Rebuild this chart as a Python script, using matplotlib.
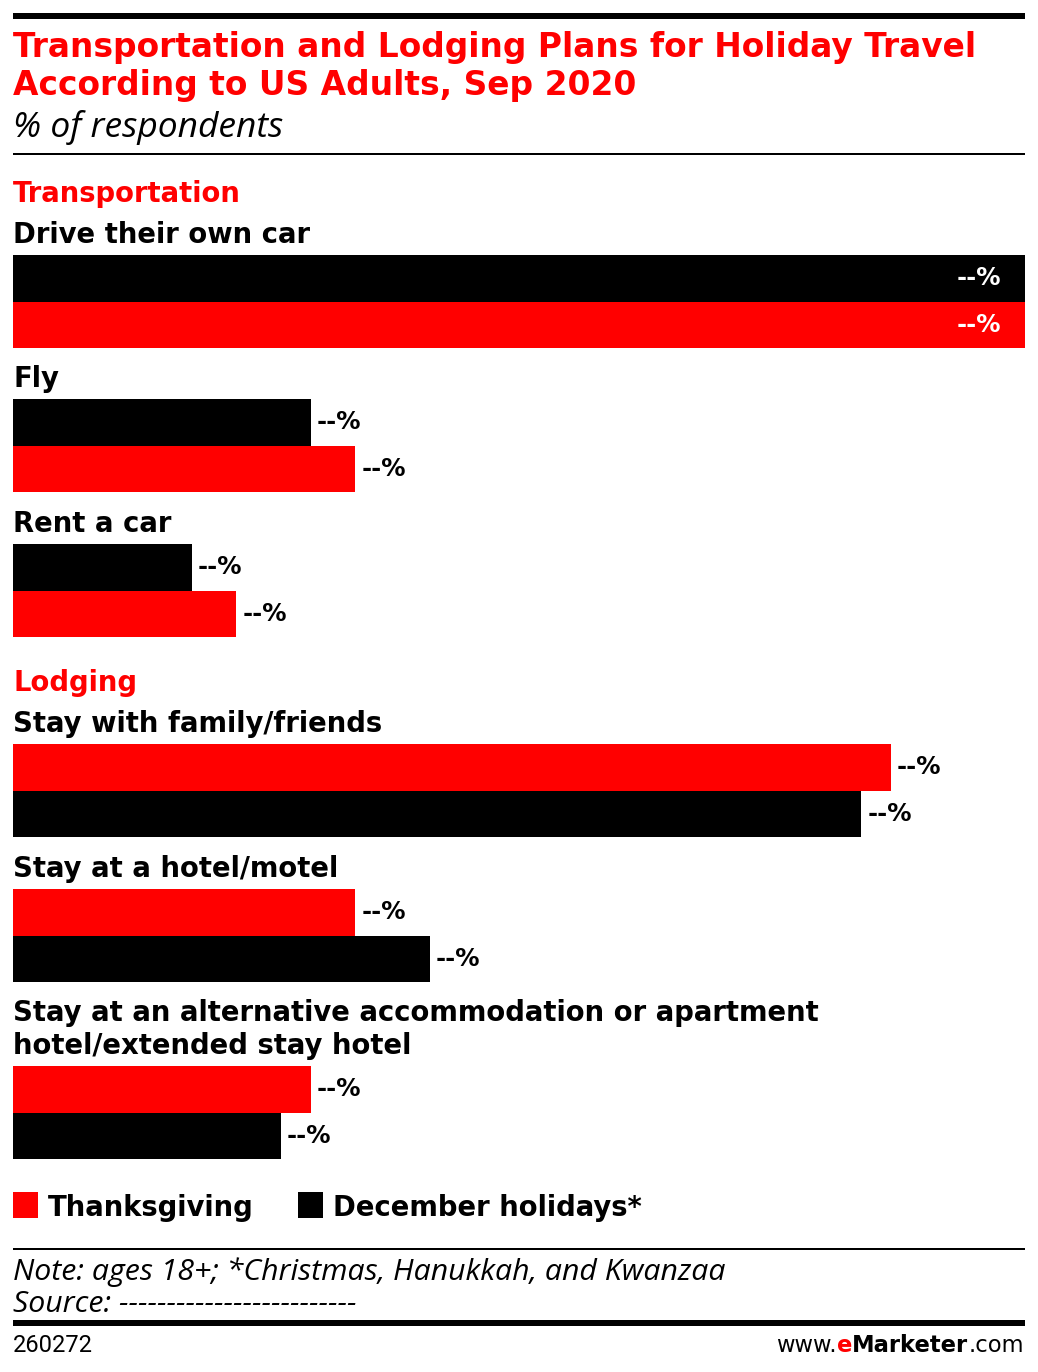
import matplotlib

matplotlib.use("Agg")
import matplotlib.pyplot as plt
from matplotlib.lines import Line2D
from matplotlib.patches import Rectangle

W, H = 1038, 1372
RED = "#ff0000"
BLACK = "#000000"

# values (source shows "--%" for every label)
transport_labels = ["Drive their own car", "Fly", "Rent a car"]
transport_thanksgiving = [68, 23, 15]
transport_december = [68, 20, 12]

lodging_labels = [
	"Stay with family/friends",
	"Stay at a hotel/motel",
	"Stay at an alternative accommodation or apartment\nhotel/extended stay hotel",
]
lodging_thanksgiving = [59, 23, 20]
lodging_december = [57, 28, 18]

value_text = "--%"
x_max = 68

LEFT, RIGHT = 13, 1025
BAR_PX = 46.5
LABEL_SIZE = 19.8
NOTE_FONT = "Open Sans"


def fx(x: float) -> float:
	return x / W


def fy(y: float) -> float:
	return 1 - y / H


def hline(fig, y: float, width_px: float) -> None:
	fig.add_artist(
		Line2D([fx(LEFT), fx(RIGHT)], [fy(y), fy(y)], color=BLACK, linewidth=width_px * 0.72, solid_capstyle="butt")
	)


def draw_group(fig, top: float, label: str, values: list[float], colors: list[str]) -> None:
	lines = label.split("\n")
	for i, line in enumerate(lines):
		fig.text(fx(LEFT), fy(top - 12 - 33 * (len(lines) - 1 - i)), line, fontsize=LABEL_SIZE,
				 fontweight="bold", va="baseline")

	ax = fig.add_axes([fx(LEFT), fy(top + 2 * BAR_PX), fx(RIGHT) - fx(LEFT), 2 * BAR_PX / H])
	ax.barh([0, 1], values, height=1.0, color=colors, linewidth=0)
	ax.set_xlim(0, x_max)
	ax.set_ylim(1.5, -0.5)
	ax.axis("off")

	for i, value in enumerate(values):
		if value >= x_max * 0.9:
			ax.annotate(value_text, (value, i), xytext=(-24 * 0.72, 0), textcoords="offset points",
						ha="right", va="center", color="white", fontsize=17.5, fontweight="bold")
		else:
			ax.annotate(value_text, (value, i), xytext=(6 * 0.72, 0), textcoords="offset points",
						ha="left", va="center", color=BLACK, fontsize=17.5, fontweight="bold")


fig = plt.figure(figsize=(W / 100, H / 100), dpi=100)
ax_bg = fig.add_axes([0, 0, 1, 1])
ax_bg.axis("off")

# header
hline(fig, 16, 6)
fig.text(fx(LEFT), fy(57), "Transportation and Lodging Plans for Holiday Travel", color=RED,
		 fontsize=23.7, fontweight="bold", va="baseline")
fig.text(fx(LEFT), fy(95), "According to US Adults, Sep 2020", color=RED,
		 fontsize=23.7, fontweight="bold", va="baseline")
fig.text(fx(LEFT), fy(137), "% of respondents", fontsize=25.5, family=NOTE_FONT, style="italic", va="baseline")
hline(fig, 154, 2)

# transportation
fig.text(fx(LEFT), fy(202), "Transportation", color=RED, fontsize=LABEL_SIZE, fontweight="bold", va="baseline")
for label, top, t_val, d_val in zip(transport_labels, [255, 399, 544], transport_thanksgiving, transport_december):
	draw_group(fig, top, label, [d_val, t_val], [BLACK, RED])

# lodging
fig.text(fx(LEFT), fy(691), "Lodging", color=RED, fontsize=LABEL_SIZE, fontweight="bold", va="baseline")
for label, top, t_val, d_val in zip(lodging_labels, [744, 889, 1066], lodging_thanksgiving, lodging_december):
	draw_group(fig, top, label, [t_val, d_val], [RED, BLACK])

# legend
fig.add_artist(Rectangle((fx(13), fy(1218)), 25 / W, 26 / H, color=RED, linewidth=0))
fig.text(fx(48), fy(1216), "Thanksgiving", fontsize=LABEL_SIZE, fontweight="bold", va="baseline")
fig.add_artist(Rectangle((fx(298), fy(1218)), 25 / W, 26 / H, color=BLACK, linewidth=0))
fig.text(fx(333), fy(1216), "December holidays*", fontsize=LABEL_SIZE, fontweight="bold", va="baseline")

# footer
hline(fig, 1249, 2)
fig.text(fx(LEFT), fy(1280), "Note: ages 18+; *Christmas, Hanukkah, and Kwanzaa", fontsize=21.8,
		 family=NOTE_FONT, style="italic", va="baseline")
fig.text(fx(LEFT), fy(1312), "Source: " + "-" * 25, fontsize=21.8, family=NOTE_FONT,
		 style="italic", va="baseline")
hline(fig, 1323, 6)
fig.text(fx(LEFT), fy(1352), "260272", fontsize=17, family="Roboto", va="baseline")

# www.eMarketer.com, chained right to left
com = ax_bg.text(fx(1024), fy(1352), ".com", fontsize=16.3, ha="right", va="baseline", transform=ax_bg.transAxes)
mkt = ax_bg.annotate("Marketer", xy=(0, 0), xycoords=com, ha="right", va="bottom", fontsize=16.3, fontweight="bold")
e_txt = ax_bg.annotate("e", xy=(0, 0), xycoords=mkt, ha="right", va="bottom", fontsize=16.3,
					   fontweight="bold", color=RED)
ax_bg.annotate("www.", xy=(0, 0), xycoords=e_txt, ha="right", va="bottom", fontsize=16.3)

plt.savefig("out.png", dpi=100)
